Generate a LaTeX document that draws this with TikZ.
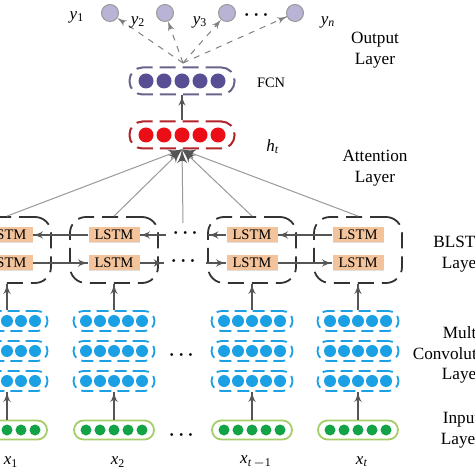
\documentclass[tikz,border=0pt]{standalone}
\usepackage{fontspec}
\setmainfont{Liberation Serif}
\usepackage{amsmath}
\usepackage{tikz}
\usetikzlibrary{arrows}
\usetikzlibrary{decorations.markings}
\usetikzlibrary{shadows}
\tikzset{arr/.style = {decoration={markings,
                                   mark=at position 1 with {\arrow[scale=1.1]{latex'}}},
                       postaction={decorate}}}
\newcommand{\vname}[2]{\textit{#1}\textsubscript{#2}}
\definecolor{mpurple}{RGB}{88,78,148}
\definecolor{mpurpleline}{RGB}{106,100,140}
\definecolor{mlilac}{RGB}{185,180,214}
\definecolor{mred}{RGB}{236,14,22}
\definecolor{mdarkred}{RGB}{178,36,42}
\definecolor{mblue}{RGB}{28,160,228}
\definecolor{mgreen}{RGB}{18,163,70}
\definecolor{mlime}{RGB}{165,205,105}
\definecolor{morange}{RGB}{243,196,156}
\definecolor{mgray}{RGB}{85,85,85}
\tikzset{
  dot/.style = {circle, inner sep=0pt, minimum size=6pt, fill=#1},
  convbox/.style = {draw=mblue, line width=0.9pt, dash pattern=on 6pt off 3pt,
                    rounded corners=5pt, minimum width=40.5pt, minimum height=10pt},
  inbox/.style = {draw=mlime, line width=0.9pt, rounded corners=4.75pt,
                  minimum width=40pt, minimum height=9.5pt},
  bigbox/.style = {draw=#1, line width=1pt, dash pattern=on 8pt off 3.5pt,
                   rounded corners=6.5pt, minimum width=52.5pt, minimum height=13.5pt},
  blk/.style = {draw=black!80, line width=0.9pt, dash pattern=on 8pt off 4pt,
                rounded corners=8pt, minimum width=44pt, minimum height=33pt},
  lstm/.style = {fill=morange, inner sep=0pt, minimum width=25.5pt, minimum height=7.5pt,
                 font=\fontsize{7.3}{8}\selectfont,
                 drop shadow={opacity=0.25, shadow xshift=0.4pt, shadow yshift=-0.4pt}},
  outdot/.style = {circle, inner sep=0pt, minimum size=8.5pt, fill=mlilac, draw=gray!80, line width=0.5pt},
  line/.style = {draw=mgray, line width=0.6pt},
  thinline/.style = {draw=gray!80, line width=0.5pt},
  lab/.style = {align=center, font=\fontsize{8.6}{10.3}\selectfont},
  var/.style = {font=\fontsize{8.5}{9}\selectfont},
  dots/.style = {font=\fontsize{9}{9}\selectfont}
}

\begin{document}
\begin{tikzpicture}[x=0.5pt, y=-0.5pt]
      \clip (0,0) rectangle (474,474);
      \fill [white] (0,0) rectangle (474,474);

      % input, convolution and BLSTM columns
      \foreach \i/\cx/\xl in {1/7/1, 2/114/2, 3/252/\textit{t}\,$-$1, 4/358/\textit{t}} {
        \node [inbox] (in\i) at (\cx, 430) {};
        \foreach \k in {1,...,5}
          \node [dot=mgreen, minimum size=5.5pt] (in\i-\k) at (\cx+14*\k-42, 430) {};
        \foreach \r/\cy in {1/321, 2/351, 3/381} {
          \node [convbox] (cv\i-\r) at (\cx, \cy) {};
          \foreach \k in {1,...,5}
            \node [dot=mblue] (cv\i-\r-\k) at (\cx+14*\k-42, \cy) {};
        }
        \node [blk] (bl\i) at (\cx, 250) {};
        \node [lstm] (bw\i) at (\cx, 235) {LSTM};
        \node [lstm] (fw\i) at (\cx, 263) {LSTM};
        \node [var] (x\i) at (\cx+4, 462) {\vname{x}{\xl}};
        \draw [line, arr] (in\i) -- (cv\i-3);
        \draw [line, arr] (cv\i-1) -- (bl\i);
      }

      \node [dots] (cvdots) at (183, 355) {$\boldsymbol{\cdots}$};
      \node [dots] (indots) at (183, 435) {$\boldsymbol{\cdots}$};
      \node [dots] (bwdots) at (187, 233) {$\boldsymbol{\cdots}$};
      \node [dots] (fwdots) at (185, 261) {$\boldsymbol{\cdots}$};

      % recurrent links
      \draw [line, arr] (bw4) -- (bw3);
      \draw [line, arr] (bw3) -- (bwdots.east |- bw3);
      \draw [line, arr] (bwdots.west |- bw2) -- (bw2);
      \draw [line, arr] (bw2) -- (bw1);
      \draw [line, arr] (fw1) -- (fw2);
      \draw [line, arr] (fw2) -- (fwdots.west |- fw2);
      \draw [line, arr] (fwdots.east |- fw3) -- (fw3);
      \draw [line, arr] (fw3) -- (fw4);

      % attention and fully connected layers
      \node [bigbox=mdarkred] (ht) at (182, 135) {};
      \node [bigbox=mpurpleline] (fcn) at (182, 81) {};
      \foreach \k in {1,...,5} {
        \node [dot=mred, minimum size=7.5pt] (ht-\k) at (182+18*\k-54, 135) {};
        \node [dot=mpurple, minimum size=7.5pt] (fcn-\k) at (182+18*\k-54, 81) {};
      }
      \coordinate (mid) at (183, 223);
      \foreach \i in {1,...,4}
        \draw [thinline, decoration={markings, mark=at position 1 with {\arrow[scale=1.6, mgray]{latex'}}},
               postaction={decorate}] (bl\i.north) -- (ht.south);
      \draw [thinline, decoration={markings, mark=at position 1 with {\arrow[scale=1.6, mgray]{latex'}}},
             postaction={decorate}] (mid) -- (ht.south);
      \draw [line, arr] (ht) -- (fcn);

      % output layer
      \coordinate (fan) at (183, 63);
      \foreach \j/\ox in {1/110, 2/165, 3/227, 4/295} {
        \node [outdot] (o\j) at (\ox, 13) {};
        \draw [thinline, draw=gray, dashed, arr] (fan) -- (o\j);
      }
      \node [var] (y1) at (77, 17) {\vname{y}{1}};
      \node [var] (y2) at (138, 22) {\vname{y}{2}};
      \node [var] (y3) at (200, 22) {\vname{y}{3}};
      \node [dots] (ydots) at (258, 15) {$\boldsymbol{\cdots}$};
      \node [var] (yn) at (328, 22) {\vname{y}{\textit{n}}};

      % layer names
      \node [lab] (outlab) at (375, 50) {Output\\Layer};
      \node [font=\fontsize{7.2}{8}\selectfont] (fcnlab) at (271, 83) {FCN};
      \node [var] (htlab) at (273, 147) {\vname{h}{\textit{t}}};
      \node [lab] (attlab) at (375, 168) {Attention\\Layer};
      \node [lab] (blstmlab) at (462, 254) {BLSTM\\Layer};
      \node [lab] (convlab) at (462, 355) {Multi\\Convolutional\\Layer};
      \node [lab] (inlab) at (461, 430) {Input\\Layer};

    \end{tikzpicture}
\end{document}
